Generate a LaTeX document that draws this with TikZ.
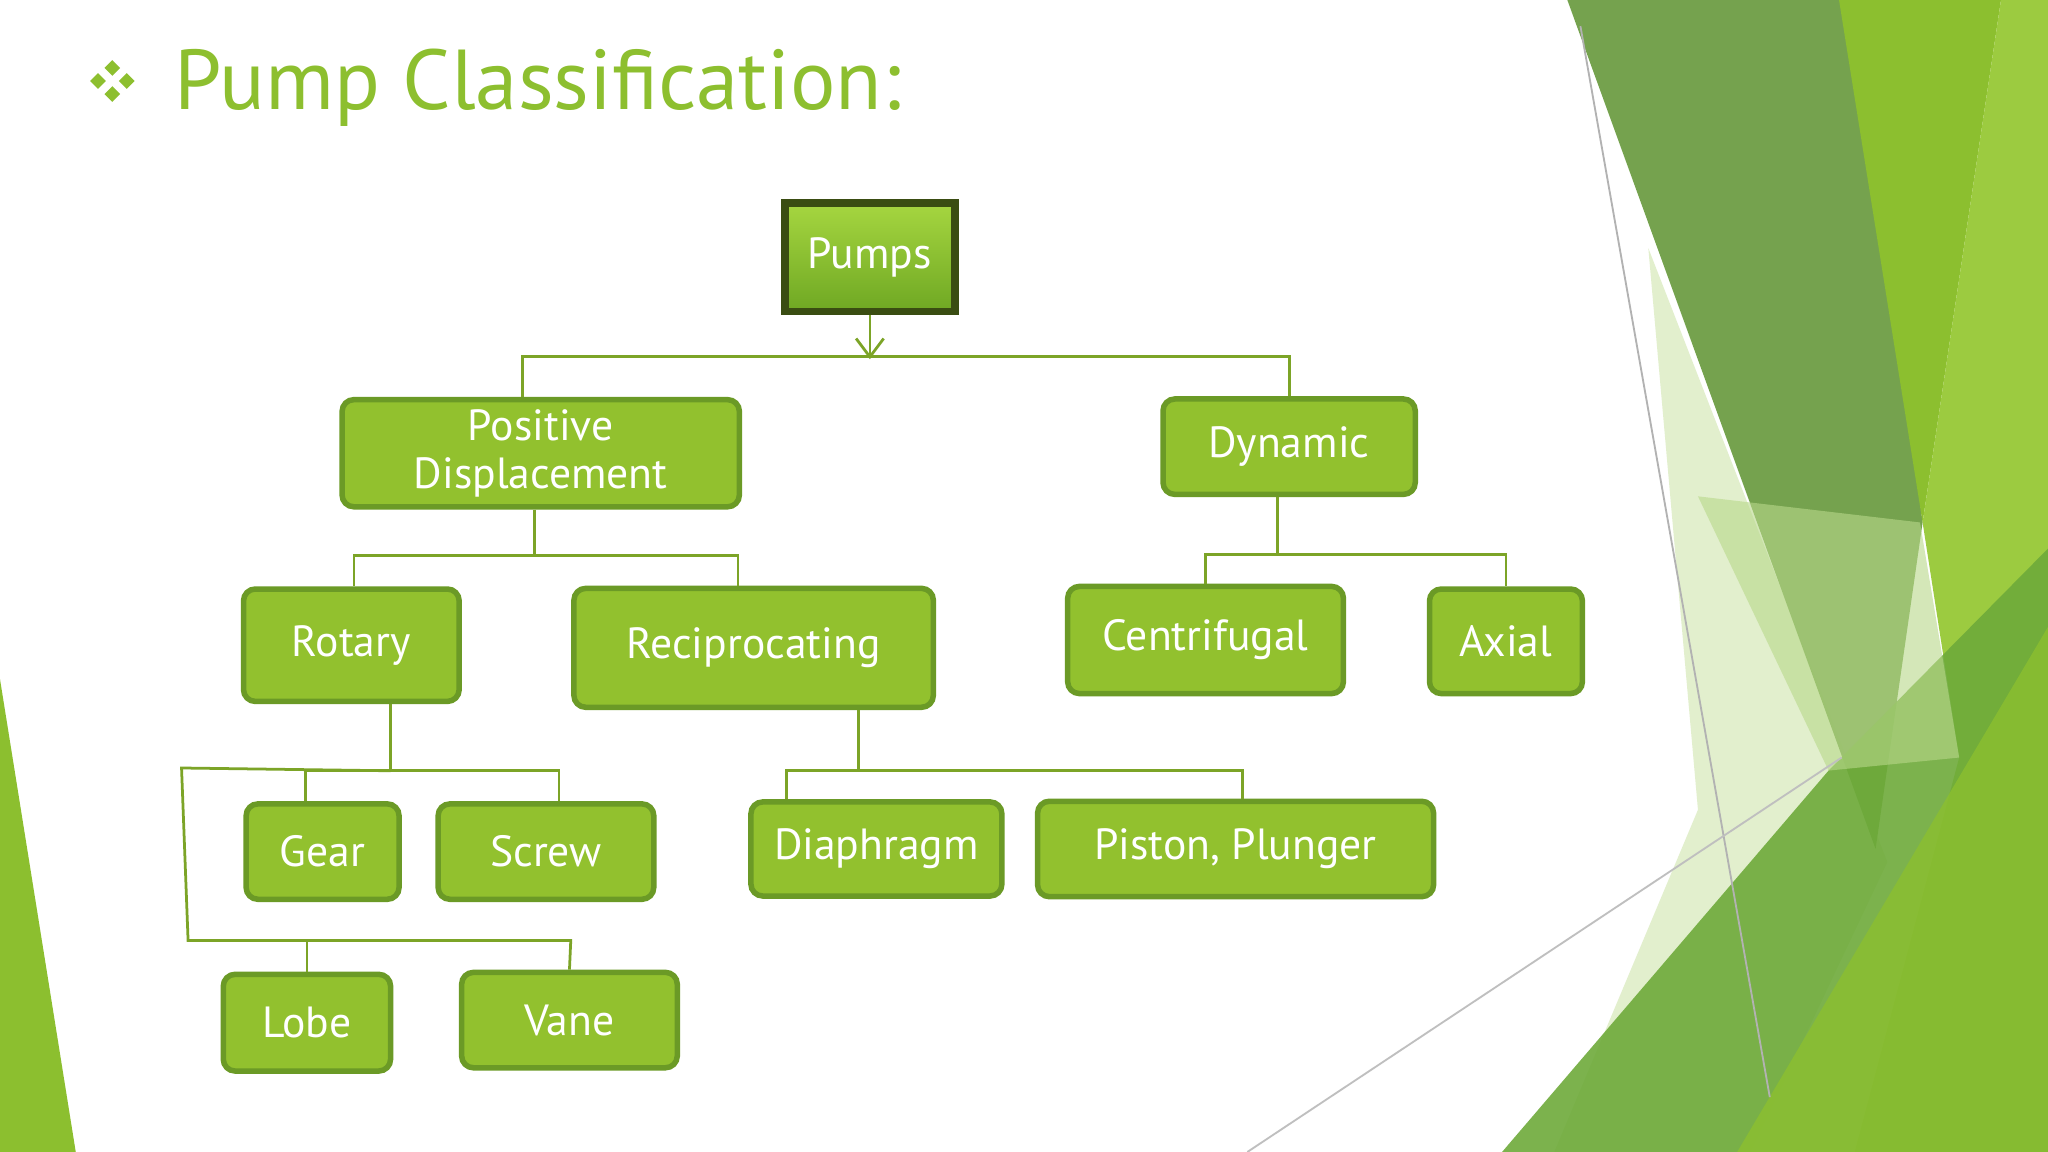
\documentclass[tikz,border=0pt]{standalone}
\usepackage{fontspec}
\setmainfont{PT Sans}
\usetikzlibrary{arrows.meta}
\definecolor{gfill}{HTML}{92C12E}
\definecolor{gline}{HTML}{6B9A26}
\definecolor{title}{HTML}{8DBF2F}
\definecolor{pale}{HTML}{D5E8B8}
\definecolor{dkg}{HTML}{6E9E45}
\definecolor{brg}{HTML}{8CBF2F}
\definecolor{brg2}{HTML}{9CCB40}
\definecolor{midg}{HTML}{6EAA3A}
\definecolor{ltg}{HTML}{B8D88A}
\definecolor{ptop}{HTML}{A6D640}
\definecolor{pbot}{HTML}{6FA823}
\begin{document}
\begin{tikzpicture}[x=0.01cm,y=-0.01cm,
 box/.style={draw=gline,line width=1.2pt,fill=gfill,rounded corners=0.09cm,text=white,font=\fontsize{9.5}{10.5}\selectfont,align=center,inner sep=0pt},
 con/.style={draw=gfill!85!black,line width=0.6pt}]
\useasboundingbox (0,0) rectangle (1568,882);
\fill[white] (0,0) rectangle (1568,882);
% background decoration
\fill[pale!70!white] (1262,190)--(1445,660)--(1340,882)--(1190,882)--(1300,620)--cycle;
\fill[dkg,opacity=0.95] (1200,0)--(1420,0)--(1472,400)--(1436,650)--cycle;
\fill[brg] (1408,0)--(1532,0)--(1472,400)--cycle;
\fill[brg2] (1532,0)--(1568,0)--(1568,882)--(1420,882)--(1500,580)--(1472,400)--cycle;
\fill[midg,opacity=0.9] (1150,882)--(1400,590)--(1568,420)--(1568,882)--cycle;
\fill[brg,opacity=0.8] (1330,882)--(1568,480)--(1568,882)--cycle;
\fill[ltg,opacity=0.6] (1300,380)--(1470,400)--(1500,580)--(1400,590)--cycle;
\fill[brg] (0,520)--(58,882)--(0,882)--cycle;
\draw[gray!60,line width=0.4pt] (1210,20)--(1355,840);
\draw[gray!50,line width=0.4pt] (955,882)--(1410,580);
% title
\foreach \dx/\dy in {0/-10,-11/0,11/0,0/10}
  \fill[title] (86+\dx,62+\dy) +(0,-6)--+(6,0)--+(0,6)--+(-6,0)--cycle;
\node[anchor=base west,text=title,font=\fontsize{18.5}{20}\selectfont,inner sep=0pt] (t) at (133,84) {Pump Classification:};
% nodes
\node[box,rounded corners=0pt,draw=black!60!gfill,line width=1.6pt,top color=ptop,bottom color=pbot,minimum width=1.30cm,minimum height=0.83cm] (pumps) at (666,197) {Pumps};
\node[box,minimum width=3.04cm,minimum height=0.82cm] (pd) at (414,347) {Positive\\Displacement};
\node[box,minimum width=1.93cm,minimum height=0.73cm] (dyn) at (987,342) {Dynamic};
\node[box,minimum width=1.65cm,minimum height=0.86cm] (rot) at (269,494) {Rotary};
\node[box,minimum width=2.75cm,minimum height=0.91cm] (rec) at (577,496) {Reciprocating};
\node[box,minimum width=2.11cm,minimum height=0.82cm] (cen) at (923,490) {Centrifugal};
\node[box,minimum width=1.17cm,minimum height=0.80cm] (ax) at (1153,491) {Axial};
\node[box,minimum width=1.17cm,minimum height=0.73cm] (gear) at (247,652) {Gear};
\node[box,minimum width=1.65cm,minimum height=0.73cm] (screw) at (418,652) {Screw};
\node[box,minimum width=1.92cm,minimum height=0.72cm] (dia) at (671,650) {Diaphragm};
\node[box,minimum width=3.03cm,minimum height=0.73cm] (pis) at (946,650) {Piston, Plunger};
\node[box,minimum width=1.28cm,minimum height=0.74cm] (lobe) at (235,783) {Lobe};
\node[box,minimum width=1.65cm,minimum height=0.73cm] (vane) at (436,781) {Vane};
% connectors
\coordinate (j0) at (666,275);
\draw[con,-{Straight Barb[length=4pt,width=6pt]}] (pumps.south) -- (j0);
\draw[con] ([xshift=-0.14cm]pd.north) -- ++(0,-31) -| (dyn.north);
\draw[con] ([xshift=-0.05cm]pd.south) -- ++(0,35) -| ([xshift=-0.12cm]rec.north);
\draw[con] ([xshift=-0.05cm]pd.south) ++(0,35) -| ([xshift=0.02cm]rot.north);
\draw[con] ([xshift=-0.09cm]dyn.south) -- ++(0,44) -| (cen.north);
\draw[con] ([xshift=-0.09cm]dyn.south) ++(0,44) -| (ax.north);
\draw[con] ([xshift=0.30cm]rot.south) -- ++(0,51) -| ([xshift=0.10cm]screw.north);
\draw[con] ([xshift=0.30cm]rot.south) ++(0,51) -| ([xshift=-0.13cm]gear.north);
\draw[con] ([xshift=0.30cm]rot.south) ++(0,51) -- (139,588) -- (144,720) -- (437,720) -- (vane.north);
\draw[con] (lobe.north) -- (235,720);
\draw[con] ([xshift=0.80cm]rec.south) -- ++(0,46) -| ([xshift=-0.69cm]dia.north);
\draw[con] ([xshift=0.80cm]rec.south) ++(0,46) -| ([xshift=0.05cm]pis.north);
\end{tikzpicture}
\end{document}
